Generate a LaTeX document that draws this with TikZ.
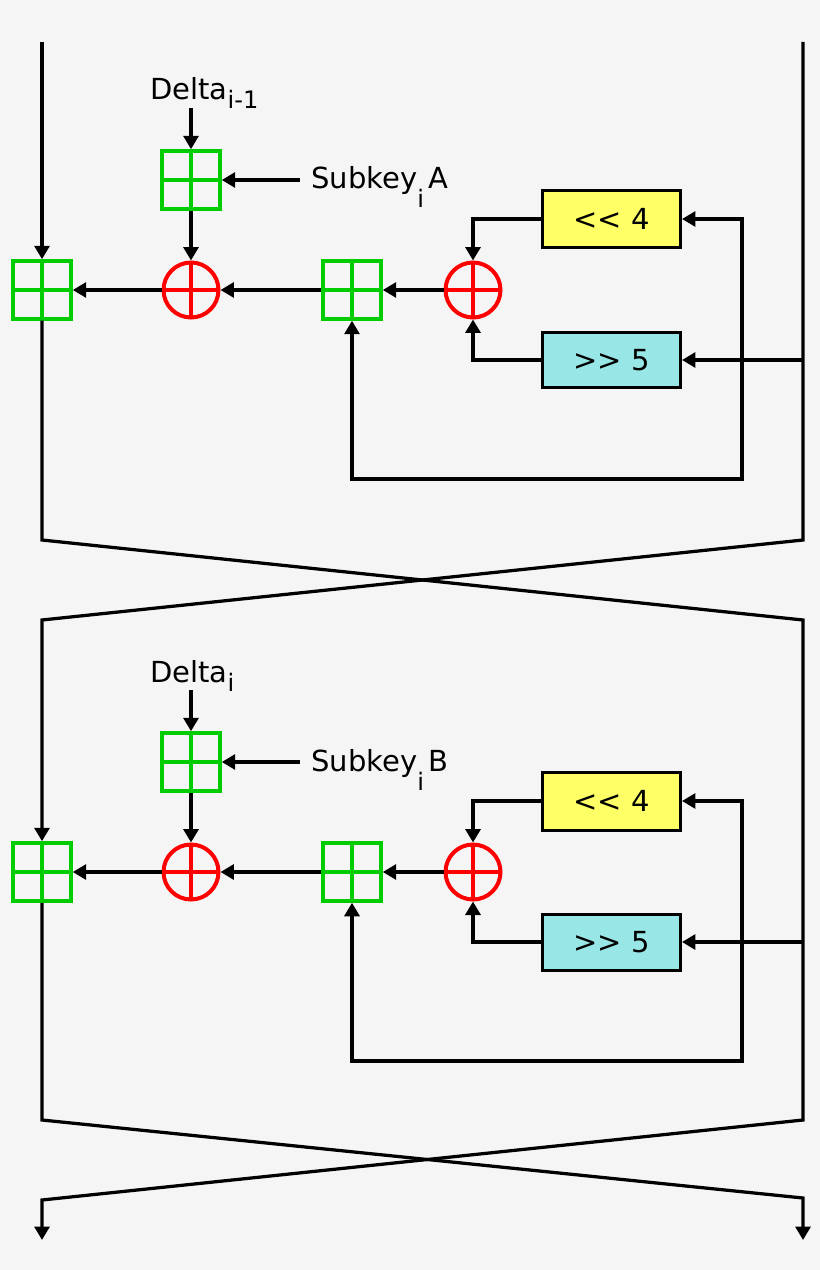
\documentclass[tikz,border=0pt]{standalone}
\usepackage{fontspec}
\setmainfont{DejaVu Sans}
\usetikzlibrary{arrows.meta,positioning}
\definecolor{bggray}{HTML}{F5F5F5}
\definecolor{addgreen}{HTML}{00CC00}
\definecolor{xorred}{HTML}{FF0000}
\definecolor{shlyellow}{HTML}{FFFF66}
\definecolor{shrcyan}{HTML}{99E6E6}
\newcommand{\lowsub}[2][0.18cm]{\raisebox{-#1}{\fontsize{13.7}{14}\selectfont #2}}
\tikzset{
  adder/.style={
    draw=addgreen,
    line width=0.08cm,
    minimum size=1.15cm,
    inner sep=0pt,
    path picture={\draw[addgreen, line width=0.08cm]
      (path picture bounding box.north) -- (path picture bounding box.south)
      (path picture bounding box.west) -- (path picture bounding box.east);}
  },
  xorop/.style={
    circle,
    draw=xorred,
    line width=0.08cm,
    minimum size=1.1cm,
    inner sep=0pt,
    path picture={\draw[xorred, line width=0.08cm]
      (path picture bounding box.north) -- (path picture bounding box.south)
      (path picture bounding box.west) -- (path picture bounding box.east);}
  },
  shiftbox/.style={
    draw=black,
    line width=0.06cm,
    minimum width=2.76cm,
    minimum height=1.16cm,
    font=\fontsize{16.5}{18}\selectfont
  },
  keytext/.style={anchor=base west, inner sep=0pt, font=\fontsize{16.5}{18}\selectfont},
  flow/.style={-{Triangle[length=0.27cm, width=0.3cm]}, line width=0.065cm, draw=black, line join=miter},
  flowboth/.style={{Triangle[length=0.27cm, width=0.3cm]}-{Triangle[length=0.27cm, width=0.3cm]}, line width=0.065cm, draw=black, line join=miter}
}
\begin{document}
\begin{tikzpicture}[x=0.02cm, y=-0.02cm]

% Background
\fill[bggray] (0,0) rectangle (820,1270);

% Round A
\node[adder] (addLA) at (42,290) {};
\node[xorop] (xorLA) at (191,290) {};
\node[adder] (addMA) at (352,290) {};
\node[xorop] (xorRA) at (473,290) {};
\node[adder] (keyA) at (191,180) {};
\node[shiftbox, fill=shlyellow] (shlA) at (611.5,219) {{<}{<} 4};
\node[shiftbox, fill=shrcyan, minimum height=1.12cm] (shrA) at (611.5,360) {{>}{>} 5};
\node[keytext] (deltaA) at (150,100) {Delta\lowsub{i-1}};
\node[keytext] (subkeyA) at (311,189) {Subkey\lowsub[0.38cm]{i}\,A};
\coordinate (dA) at (191,108);
\coordinate (skA) at (300,180);
\coordinate (tapA) at (803,360);
\coordinate (loopA) at (742,479);

% Round B
\node[adder] (addLB) at (42,872) {};
\node[xorop] (xorLB) at (191,872) {};
\node[adder] (addMB) at (352,872) {};
\node[xorop] (xorRB) at (473,872) {};
\node[adder] (keyB) at (191,762) {};
\node[shiftbox, fill=shlyellow] (shlB) at (611.5,801) {{<}{<} 4};
\node[shiftbox, fill=shrcyan, minimum height=1.12cm] (shrB) at (611.5,942) {{>}{>} 5};
\node[keytext] (deltaB) at (150,682) {Delta\lowsub{i}};
\node[keytext] (subkeyB) at (311,771) {Subkey\lowsub[0.38cm]{i}\,B};
\coordinate (dB) at (191,690);
\coordinate (skB) at (300,762);
\coordinate (tapB) at (803,942);
\coordinate (loopB) at (742,1061);

% Halves and swaps
\coordinate (inL) at (42,42);
\coordinate (inR) at (803,42);
\coordinate (cAL) at (42,540);
\coordinate (cAR) at (803,540);
\coordinate (cBL) at (42,620);
\coordinate (cBR) at (803,620);
\coordinate (cCL) at (42,1120);
\coordinate (cCR) at (803,1120);
\coordinate (cDL) at (42,1200);
\coordinate (cDR) at (803,1198);
\coordinate (outL) at (42,1240);
\coordinate (outR) at (803,1240);

% Round A arrows
\draw[flow] (inL) -- (addLA);
\draw[flow] (dA) -- (keyA);
\draw[flow] (skA) -- (keyA);
\draw[flow] (keyA) -- (xorLA);
\draw[flow] (xorLA) -- (addLA);
\draw[flow] (addMA) -- (xorLA);
\draw[flow] (xorRA) -- (addMA);
\draw[flow] (shlA.west) -| (xorRA);
\draw[flow] (shrA.west) -| (xorRA);
\draw[flow] (tapA) -- (shrA.east);
\draw[flowboth] (shlA.east) -| (loopA) -| (addMA);

% Round B arrows
\draw[flow] (dB) -- (keyB);
\draw[flow] (skB) -- (keyB);
\draw[flow] (keyB) -- (xorLB);
\draw[flow] (xorLB) -- (addLB);
\draw[flow] (addMB) -- (xorLB);
\draw[flow] (xorRB) -- (addMB);
\draw[flow] (shlB.west) -| (xorRB);
\draw[flow] (shrB.west) -| (xorRB);
\draw[flow] (tapB) -- (shrB.east);
\draw[flowboth] (shlB.east) -| (loopB) -| (addMB);

% Crossing lines
\draw[flow] (addLA) -- (cAL) -- (cBR) -- (cCR) -- (cDL) -- (outL);
\draw[flow] (inR) -- (cAR) -- (cBL) -- (addLB);
\draw[flow] (addLB) -- (cCL) -- (cDR) -- (outR);

\end{tikzpicture}
\end{document}
